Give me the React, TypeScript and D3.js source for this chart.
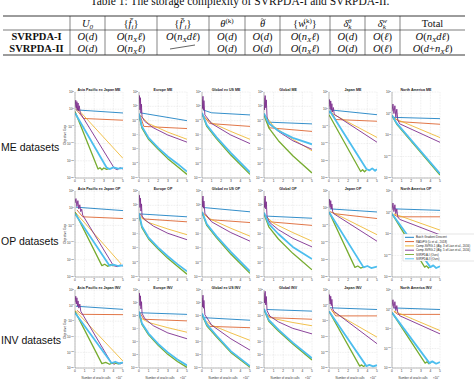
import React from "react";
import * as d3 from "d3";

type Pt = [number, number];
type Seg = [string, string];

// ---------- table data ----------
const tableTitle = "Table 1: The storage complexity of SVRPDA-I and SVRPDA-II.";
const tableHeaders: Seg[][] = [
  [],
  [["U", "i"], ["0", "b"]],
  [["{", "r"], ["f\u0304", "i"], ["i", "b"], ["}", "r"]],
  [["{", "r"], ["f\u0304\u2032", "i"], ["i", "b"], ["}", "r"]],
  [["θ", "i"], ["(k)", "p"]],
  [["θ", "i"]],
  [["{", "r"], ["w", "i"], ["i", "b"], ["(k)", "P"], ["}", "r"]],
  [["δ", "i"], ["k", "b"], ["θ", "P"]],
  [["δ", "i"], ["k", "b"], ["w", "P"]],
  [["Total", "r"]],
];
const Od: Seg[] = [["O", "i"], ["(", "r"], ["d", "i"], [")", "r"]];
const OnXl: Seg[] = [["O", "i"], ["(", "r"], ["n", "i"], ["X", "b"], ["ℓ", "i"], [")", "r"]];
const OnXdl: Seg[] = [["O", "i"], ["(", "r"], ["n", "i"], ["X", "b"], ["dℓ", "i"], [")", "r"]];
const Ol: Seg[] = [["O", "i"], ["(", "r"], ["ℓ", "i"], [")", "r"]];
const OdnXl: Seg[] = [["O", "i"], ["(", "r"], ["d", "i"], ["+", "r"], ["n", "i"], ["X", "b"], ["ℓ", "i"], [")", "r"]];
const tableRowNames = ["SVRPDA-I", "SVRPDA-II"];
const tableRows: (Seg[] | null)[][] = [
  [Od, OnXl, OnXdl, Od, Od, OnXl, Od, Ol, OnXdl],
  [Od, OnXl, null, Od, Od, OnXl, Od, Ol, OdnXl],
];

// ---------- plot data ----------
const colNames = ["Asia Pacific ex Japan", "Europe", "Global ex US", "Global", "Japan", "North America"];
const rowSuffix = ["ME", "OP", "INV"];
const rowLabels = ["ME datasets", "OP datasets", "INV datasets"];
const yMaxByCol = [5, 2, 2, 2, 5, 5];
const yMinByCol = [-20, -10, -10, -10, -20, -15];
const yStepByCol = [5, 2, 2, 2, 5, 5];
const xTicks = [0, 1, 2, 3, 4, 5];
const xLabel = "Number of oracle calls";
const xScaleExp = "7";
const seriesNames = [
  "Batch Gradient Descent",
  "RADiPG (Li et al., 2018)",
  "Comp-SVRG-1 (Alg. 3 of Lian et al., 2016)",
  "Comp-SVRG-2 (Alg. 5 of Lian et al., 2016)",
  "SVRPDA-I (Ours)",
  "SVRPDA-II (Ours)",
];
const seriesColors = ["#0072BD", "#D95319", "#EDB120", "#7E2F8E", "#77AC30", "#4DBEEE"];

// values: [oracle calls, log10 objective gap]
const batchGD: Pt[][] = [
  [[0.1, -0.2], [5, -1.1]],
  [[0.1, -0.9], [5, -2.0]],
  [[0.1, -0.5], [1, -0.9], [5, -1.2]],
  [[0.3, -2.2], [5, -2.45]],
  [[0.1, -0.2], [5, -1.6]],
  [[0.2, -0.9], [5, -1.2]],
  [[0.1, 0.3], [5, -0.7]],
  [[0.1, -1.2], [5, -1.6]],
  [[0.1, -0.3], [5, -0.9]],
  [[0.2, -1.5], [5, -1.8]],
  [[0.1, -0.2], [5, -1.1]],
  [[0.2, 0.85], [5, 0.5]],
  [[0.1, -0.2], [5, -1.2]],
  [[0.1, -1.5], [5, -1.75]],
  [[0.1, -2.25], [5, -2.65]],
  [[0.3, -1.0], [5, -1.25]],
  [[0.1, -0.7], [5, -1.25]],
  [[0.2, 0.4], [5, 0.0]],
];
const radipg: Pt[][] = [
  [[0.1, 0], [0.9, -2.7], [5, -3.2]],
  [[0.1, -1.2], [0.5, -2.8], [5, -3.1]],
  [[0.1, -1.2], [0.8, -2.4], [5, -2.8]],
  [[0.2, -2.0], [0.6, -3.0], [5, -3.5]],
  [[0.2, -0.5], [0.7, -3.0], [5, -3.5]],
  [[0.2, -1.0], [0.8, -1.9], [5, -2.5]],
  [[0.2, -0.5], [0.8, -2.5], [5, -3.0]],
  [[0.1, -1.2], [0.5, -1.9], [5, -2.3]],
  [[0.1, -1.0], [0.8, -2.0], [5, -2.4]],
  [[0.2, -1.8], [0.6, -2.3], [5, -2.8]],
  [[0.1, -1.0], [0.6, -1.6], [5, -3.0]],
  [[0.2, -0.5], [0.6, -1.0], [5, -1.0]],
  [[0.2, -1.5], [0.7, -2.8], [5, -2.9]],
  [[0.1, -1.5], [0.5, -2.5], [5, -2.75]],
  [[0.1, -2.4], [0.8, -3.6], [5, -3.8]],
  [[0.2, -1.5], [0.6, -2.25], [5, -2.5]],
  [[0.2, -1.0], [0.7, -3.3], [5, -3.3]],
  [[0.2, -0.5], [0.6, -1.25], [5, -1.25]],
];
const compSvrg1: Pt[][] = [
  [[0.1, 0.6], [5, -14.3]],
  [[0.1, -1.2], [1, -2.4], [3, -3.6], [5, -4.6]],
  [[0.1, -1.4], [1, -2.3], [3, -3.5], [5, -4.6]],
  [[0.1, -1.2], [1, -2.8], [3, -4.6], [5, -6.2]],
  [[0.2, -1.1], [5, -8.2]],
  [[0.2, -1.1], [5, -5.6]],
  [[0, -1.1], [4.8, -16.2]],
  [[0.1, -1.6], [1, -2.4], [3, -3.3], [5, -4.1]],
  [[0.1, -1.2], [1, -2.0], [3, -3.2], [5, -4.3]],
  [[0.1, -1.4], [1, -2.5], [3, -3.8], [5, -5.0]],
  [[0.3, -1.1], [5, -7.7]],
  [[0.2, -0.3], [5, -4.1]],
  [[0, -1.5], [5, -17.8]],
  [[0.1, -2.25], [1, -3.0], [3, -3.8], [5, -4.5]],
  [[0.1, -2.4], [1, -3.4], [3, -4.6], [5, -5.75]],
  [[0.2, -1.8], [1, -2.4], [3, -3.0], [5, -3.5]],
  [[0.3, -1.8], [5, -10.1]],
  [[0.2, -0.4], [5, -5.4]],
];
const compSvrg2: Pt[][] = [
  [[0, 0.5], [0.08, 2.6], [0.14, 0.2], [0.2, 2.2], [0.26, -0.2], [0.32, 1.8], [0.38, -0.5], [0.44, 1.0], [0.55, -1.1], [4.1, -17.2], [4.4, -17.6], [4.7, -17.0], [5, -17.4]],
  [[0, 0.4], [0.05, 1.5], [0.1, -0.5], [0.15, 1.2], [0.2, -0.9], [0.25, 0.3], [0.32, -1.5], [0.6, -2.1], [1.5, -3.0], [3, -4.0], [5, -5.0]],
  [[0, 1.0], [0.05, -0.3], [0.1, 1.4], [0.15, -0.5], [0.2, 0.8], [0.3, -1.2], [1, -2.4], [3, -4.0], [5, -5.2]],
  [[0, 1.2], [0.06, -0.5], [0.12, 1.5], [0.18, -0.2], [0.24, 0.9], [0.32, -1.5], [0.5, -2.3], [1.5, -3.5], [3, -4.8], [5, -6.0]],
  [[0, 0.8], [0.06, 2.8], [0.12, 0.0], [0.18, 2.4], [0.24, -0.3], [0.3, 1.6], [0.36, -0.8], [0.45, 0.5], [0.55, -1.5], [5, -9.6]],
  [[0, 0.5], [0.1, 2.2], [0.2, 0], [0.3, 1.8], [0.4, -0.8], [0.5, 1.0], [0.6, -1.5], [0.8, -2.4], [5, -6.7]],
  [[0, 1.5], [0.1, 2.8], [0.2, 0.5], [0.3, 2.2], [0.4, -0.2], [0.5, 1.0], [0.6, -1.0], [0.7, -0.3], [0.8, -2.0], [4, -16.7], [4.4, -17.0], [4.7, -16.5], [5, -16.8]],
  [[0, 0.5], [0.05, 1.4], [0.1, -0.3], [0.15, 1.0], [0.2, -0.8], [0.26, 0.2], [0.32, -1.5], [0.6, -2.0], [1.5, -2.9], [3, -3.9], [5, -4.8]],
  [[0, 1.0], [0.05, -0.2], [0.1, 1.3], [0.15, -0.4], [0.2, 0.6], [0.3, -1.1], [1, -2.3], [3, -3.8], [5, -5.0]],
  [[0, 1.0], [0.06, -0.3], [0.12, 1.3], [0.18, -0.5], [0.24, 0.5], [0.32, -1.6], [0.6, -2.4], [1.5, -3.4], [3, -4.6], [5, -5.8]],
  [[0, 0.8], [0.06, 2.6], [0.12, 0.2], [0.18, 2.2], [0.24, -0.2], [0.3, 1.2], [0.38, -1.0], [0.5, -1.6], [5, -9.6]],
  [[0, 0.6], [0.1, 2.2], [0.2, 0.2], [0.3, 1.8], [0.4, -0.3], [0.5, 0.8], [0.6, -1.0], [0.8, -1.6], [5, -5.2]],
  [[0, 1.0], [0.08, 3.0], [0.14, 0.5], [0.2, 2.5], [0.26, -0.2], [0.32, 1.5], [0.4, -0.8], [0.5, 0.5], [0.6, -1.8], [3.8, -18.4], [4.1, -18.8], [4.4, -18.2], [4.7, -18.7], [5, -18.3]],
  [[0, 0.4], [0.05, 1.5], [0.1, -0.4], [0.15, 1.1], [0.2, -0.9], [0.26, 0.2], [0.32, -1.6], [0.6, -2.4], [1.5, -3.5], [3, -4.6], [5, -5.5]],
  [[0, 0.8], [0.05, -0.6], [0.1, 1.2], [0.15, -0.8], [0.2, 0.4], [0.3, -1.8], [1, -3.4], [3, -5.5], [5, -7.25]],
  [[0, 1.5], [0.06, 0.0], [0.12, 1.8], [0.18, -0.3], [0.24, 1.0], [0.32, -1.2], [0.6, -2.0], [1.5, -2.9], [3, -3.9], [5, -4.75]],
  [[0, 1.5], [0.06, 3.5], [0.12, 0.5], [0.18, 3.0], [0.24, 0.0], [0.3, 2.0], [0.38, -1.0], [0.5, -1.8], [5, -12.2]],
  [[0, 0.8], [0.1, 2.5], [0.2, 0.3], [0.3, 2.0], [0.4, -0.3], [0.5, 1.0], [0.6, -0.8], [0.8, -1.6], [5, -6.25]],
];
const svrpda1: Pt[][] = [
  [[0, -0.7], [2.4, -17.4], [2.6, -17.0], [2.8, -17.6], [3.0, -17.1], [3.3, -17.5], [3.6, -17.2]],
  [[0, -1.2], [0.3, -3.0], [1, -4.6], [2, -6.0], [3, -7.3], [4, -8.4], [5, -9.5]],
  [[0, -1.0], [0.5, -2.8], [1.5, -4.5], [3, -6.8], [5, -9.5]],
  [[0, -1.2], [0.5, -3.0], [1.5, -4.8], [3, -6.9], [5, -9.3]],
  [[0, -1.6], [3.3, -18.1], [3.5, -17.6], [3.7, -18.2], [3.9, -17.7]],
  [[0, -0.5], [0.5, -2.5], [5, -14.3]],
  [[0, -1.1], [2.8, -16.7], [3.1, -16.3], [3.4, -16.9], [3.7, -16.4], [4, -16.8]],
  [[0, -1.3], [0.3, -3.1], [1, -4.7], [2, -6.1], [3, -7.4], [4, -8.5], [5, -9.6]],
  [[0, -1.0], [0.5, -2.8], [1.5, -4.5], [3, -6.8], [5, -9.5]],
  [[0, -1.2], [0.5, -3.0], [1.5, -4.7], [3, -6.7], [5, -9.0]],
  [[0, -1.1], [2.7, -17.2], [3, -16.8], [3.3, -17.4], [3.7, -17.0]],
  [[0, -0.3], [3.4, -12.7], [3.6, -12.4], [3.8, -12.9], [4.0, -12.5]],
  [[0, -1.8], [2.8, -18.6], [3.2, -18.2], [3.6, -18.8], [4, -18.3], [4.5, -18.7], [4.8, -18.3]],
  [[0, -1.5], [0.3, -3.3], [1, -4.9], [2, -6.5], [3, -7.9], [4, -9.0], [5, -9.9]],
  [[0, -1.8], [0.5, -3.5], [1.5, -5.2], [3, -7.6], [5, -9.9]],
  [[0, -1.0], [0.5, -2.8], [1.5, -4.3], [3, -6.3], [5, -8.75]],
  [[0, -1.8], [3.2, -19.4], [3.4, -19.0], [3.6, -19.5], [3.8, -19.1]],
  [[0, -0.8], [3.45, -13.75], [3.65, -13.4], [3.85, -13.9], [4.05, -13.5]],
];
const svrpda2: Pt[][] = [
  [[0, -1.1], [3.3, -17.0], [3.6, -17.4], [4, -16.9], [4.5, -17.3], [5, -17.1]],
  [[0, -1.0], [0.3, -2.8], [1, -4.4], [2, -5.8], [3, -7.0], [4, -8.0], [5, -9.1]],
  [[0, -0.9], [0.5, -2.6], [1.5, -4.3], [3, -6.5], [5, -9.2]],
  [[0, -1.0], [0.5, -2.4], [1.5, -3.4], [3, -4.4], [5, -5.3]],
  [[0, -1.2], [0.1, -0.6], [3.9, -17.4], [4.2, -17.8], [4.5, -17.2], [4.8, -17.9], [5, -17.4]],
  [[0, -0.4], [0.5, -2.3], [5, -14.0]],
  [[0, -1.6], [3.6, -16.7], [4, -16.4], [4.5, -16.8], [5, -16.6]],
  [[0, -1.1], [0.3, -2.9], [1, -4.5], [2, -5.9], [3, -7.1], [4, -8.2], [5, -9.2]],
  [[0, -0.9], [0.5, -2.6], [1.5, -4.3], [3, -6.5], [5, -9.2]],
  [[0, -1.0], [0.5, -2.6], [1.5, -4.0], [3, -5.8], [5, -7.5]],
  [[0, -1.1], [3.6, -17.2], [4, -16.8], [4.4, -17.4], [5, -17.0]],
  [[0, -0.3], [4, -12.7], [4.3, -12.3], [4.6, -12.9], [5, -12.5]],
  [[0, -2.3], [3.8, -18.4], [4.2, -18.0], [4.6, -18.6], [5, -18.2]],
  [[0, -1.3], [0.3, -3.1], [1, -4.7], [2, -6.3], [3, -7.6], [4, -8.7], [5, -9.6]],
  [[0, -1.6], [0.5, -3.3], [1.5, -5.0], [3, -7.4], [5, -9.7]],
  [[0, -0.9], [0.5, -2.6], [1.5, -4.1], [3, -6.1], [5, -8.5]],
  [[0, -1.8], [3.9, -19.4], [4.2, -19.0], [4.6, -19.5], [5, -19.1]],
  [[0, -0.8], [3.9, -13.75], [4.2, -13.3], [4.6, -13.9], [5, -13.5]],
];
const allSeries = [batchGD, radipg, compSvrg1, compSvrg2, svrpda1, svrpda2];
const seriesWidths = [0.8, 0.8, 0.8, 0.9, 1.3, 1.8];

// ---------- layout ----------
const colLeft = [75, 139, 202, 264, 329, 392];
const plotW = 48;
const rowTop = [92, 191, 290];
const rowBottom = [178, 277, 368];
const tableCols = [3, 70, 105, 157, 209, 245, 280, 330, 365, 400, 465];

function MathText({ segs, x, y, size, anchor }: { segs: Seg[]; x: number; y: number; size: number; anchor?: string }) {
  let cur = 0;
  const small = size * 0.68;
  const spans = segs.map((s, k) => {
    const [t, st] = s;
    let dy = 0;
    let dx = 0;
    let fs = size;
    let italic = st !== "r";
    if (st === "i" || st === "r") {
      dy = -cur;
      cur = 0;
    } else if (st === "b") {
      dy = size * 0.22 - cur;
      cur = size * 0.22;
      fs = small;
    } else if (st === "p" || st === "P") {
      dy = -size * 0.4 - cur;
      cur = -size * 0.4;
      fs = small;
      if (st === "P") dx = -small * 0.5;
      if (t.startsWith("(")) italic = false;
    }
    return (
      <tspan key={k} dx={dx} dy={dy} fontSize={fs} fontStyle={italic ? "italic" : "normal"}>
        {t}
      </tspan>
    );
  });
  return (
    <text x={x} y={y} textAnchor={anchor || "middle"} fontFamily="Liberation Serif" fill="#111">
      {spans}
    </text>
  );
}

function Table() {
  const centers = tableCols.slice(0, -1).map((c, i) => (c + tableCols[i + 1]) / 2);
  const tx = centers[5] + 0.8;
  return (
    <g>
      <text x={240} y={5} textAnchor="middle" fontFamily="Liberation Serif" fontSize={11.5} fill="#111">
        {tableTitle}
      </text>
      <line x1={3} x2={465} y1={16} y2={16} stroke="#222" strokeWidth={0.9} />
      <line x1={3} x2={465} y1={30} y2={30} stroke="#222" strokeWidth={0.6} />
      <line x1={3} x2={465} y1={55} y2={55} stroke="#222" strokeWidth={0.9} />
      {tableCols.slice(1, -1).map((c) => (
        <line key={c} x1={c} x2={c} y1={16} y2={55} stroke="#333" strokeWidth={0.6} />
      ))}
      {tableHeaders.map((h, i) =>
        h.length ? <MathText key={i} segs={h} x={centers[i]} y={27} size={10.5} /> : null
      )}
      <path d={`M${tx - 2.4},${19.3} q1.2,-1.4 2.4,0 t2.4,0`} fill="none" stroke="#111" strokeWidth={0.55} />
      {tableRowNames.map((n, r) => (
        <text key={n} x={centers[0]} y={40 + r * 12} textAnchor="middle" fontFamily="Liberation Serif" fontWeight="bold" fontSize={10.5} fill="#111">
          {n}
        </text>
      ))}
      {tableRows.map((row, r) =>
        row.map((cell, j) =>
          cell ? (
            <MathText key={r + "-" + j} segs={cell} x={centers[j + 1]} y={40 + r * 12} size={10.5} />
          ) : (
            <line key={r + "-" + j} x1={centers[j + 1] - 13} x2={centers[j + 1] + 12} y1={49} y2={45} stroke="#222" strokeWidth={0.7} />
          )
        )
      )}
    </g>
  );
}

function Panel({ idx }: { idx: number }) {
  const r = Math.floor(idx / 6);
  const c = idx % 6;
  const left = colLeft[c];
  const right = left + plotW;
  const top = rowTop[r];
  const bottom = rowBottom[r];
  const x = d3.scaleLinear().domain([0, 5]).range([left, right]);
  const y = d3.scaleLinear().domain([yMinByCol[c], yMaxByCol[c]]).range([bottom, top]);
  const yTicks = d3.range(yMaxByCol[c], yMinByCol[c] - 0.001, -yStepByCol[c]);
  const line = d3
    .line<Pt>()
    .x((d) => x(d[0]))
    .y((d) => y(d[1]));
  const clipId = "clip" + idx;
  return (
    <g>
      <defs>
        <clipPath id={clipId}>
          <rect x={left} y={top} width={plotW} height={bottom - top} />
        </clipPath>
      </defs>
      {yTicks.map((t) => (
        <line key={"gy" + t} x1={left} x2={right} y1={y(t)} y2={y(t)} stroke="#c8c8c8" strokeWidth={0.35} strokeDasharray="0.8,0.8" />
      ))}
      {xTicks.map((t) => (
        <line key={"gx" + t} x1={x(t)} x2={x(t)} y1={top} y2={bottom} stroke="#c8c8c8" strokeWidth={0.35} strokeDasharray="0.8,0.8" />
      ))}
      <g clipPath={`url(#${clipId})`}>
        {allSeries.map((s, k) => (
          <path key={k} d={line(s[idx]) || ""} fill="none" stroke={seriesColors[k]} strokeWidth={seriesWidths[k]} strokeLinejoin="round" />
        ))}
      </g>
      <line x1={left} x2={left} y1={top} y2={bottom} stroke="#555" strokeWidth={0.4} />
      <line x1={left} x2={right} y1={bottom} y2={bottom} stroke="#555" strokeWidth={0.4} />
      {yTicks.map((t) => (
        <text key={"ty" + t} x={left - 1.2} y={y(t) + 1.1} textAnchor="end" fontFamily="Liberation Sans" fontSize={3.2} fill="#333">
          10
          <tspan dy={-1.3} fontSize={2.3}>
            {t}
          </tspan>
        </text>
      ))}
      {xTicks.map((t) => (
        <text key={"tx" + t} x={x(t)} y={bottom + 3.8} textAnchor="middle" fontFamily="Liberation Sans" fontSize={3.2} fill="#333">
          {t}
        </text>
      ))}
      <text x={(left + right) / 2} y={top - 1.5} textAnchor="middle" fontFamily="Liberation Sans" fontWeight="bold" fontSize={3.6} fill="#222">
        {colNames[c] + " " + rowSuffix[r]}
      </text>
      {c === 0 ? (
        <text transform={`translate(${left - 9},${(top + bottom) / 2}) rotate(-90)`} textAnchor="middle" fontFamily="Liberation Sans" fontSize={3.2} fill="#333">
          Objective Gap
        </text>
      ) : null}
      {r === 2 ? (
        <g>
          <text x={left + 21} y={bottom + 10.5} textAnchor="middle" fontFamily="Liberation Sans" fontSize={2.9} fill="#333">
            {xLabel}
          </text>
          <text x={left + 41} y={bottom + 10.5} textAnchor="start" fontFamily="Liberation Sans" fontSize={2.9} fill="#333">
            ×10
            <tspan dy={-1.2} fontSize={2.2}>{xScaleExp}</tspan>
          </text>
        </g>
      ) : null}
    </g>
  );
}

function Legend() {
  const x0 = 403;
  const y0 = 234;
  return (
    <g>
      <rect x={x0} y={y0} width={75} height={27} fill="#fff" stroke="#aaa" strokeWidth={0.3} />
      {seriesNames.map((n, i) => (
        <g key={n}>
          <line x1={x0 + 2} x2={x0 + 11} y1={y0 + 3.3 + i * 4.3} y2={y0 + 3.3 + i * 4.3} stroke={seriesColors[i]} strokeWidth={0.9} />
          <text x={x0 + 13} y={y0 + 4.3 + i * 4.3} fontFamily="Liberation Sans" fontSize={2.9} fill="#222">
            {n}
          </text>
        </g>
      ))}
    </g>
  );
}

export default function App() {
  const panels = d3.range(18);
  const labelY = [147, 241, 340];
  return (
    <svg width={474} height={382} style={{ position: "absolute", left: 0, top: 0, background: "#fff" }}>
      <rect x={0} y={0} width={474} height={382} fill="#fff" />
      <Table />
      {rowLabels.map((l, i) => (
        <text key={l} x={1} y={labelY[i] + 3.6} fontFamily="Liberation Sans" fontSize={10.5} fill="#111">
          {l}
        </text>
      ))}
      {panels.map((i) => (
        <Panel key={i} idx={i} />
      ))}
      <Legend />
    </svg>
  );
}
